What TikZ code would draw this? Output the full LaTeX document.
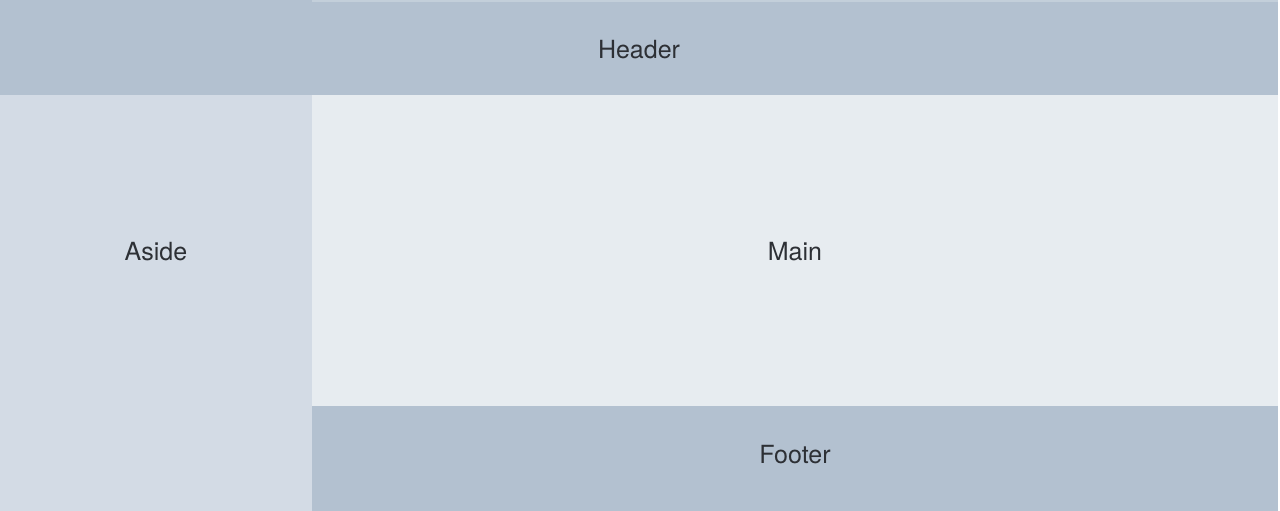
\documentclass[tikz,border=0pt]{standalone}
\usepackage{fontspec}
\setmainfont{TeX Gyre Heros}
\definecolor{hdr}{HTML}{B3C1D0}
\definecolor{asd}{HTML}{D3DBE5}
\definecolor{mn}{HTML}{E7ECF0}
\definecolor{txt}{HTML}{2D3035}
\definecolor{topstrip}{HTML}{C3CFDA}
\tikzset{
  region/.style={inner sep=0pt, outer sep=0pt},
  lbl/.style={text=txt, font=\fontsize{25}{29}\selectfont, inner sep=0pt}
}
\begin{document}
\begin{tikzpicture}[x=1pt,y=-1pt]
\useasboundingbox (0,0) rectangle (1280,511);
\fill[white] (0,0) rectangle (1280,511);
\fill[hdr] (0,0) rectangle (1278,95);
\fill[topstrip] (312,0) rectangle (1278,2);
\fill[asd] (0,95) rectangle (312,511);
\fill[mn] (312,95) rectangle (1278,406);
\fill[hdr] (312,406) rectangle (1278,511);
\node[lbl] (header) at (639,50) {Header};
\node[lbl] (aside) at (156,252) {Aside};
\node[lbl] (main) at (795,252) {Main};
\node[lbl] (footer) at (795,455) {Footer};
\end{tikzpicture}
\end{document}
